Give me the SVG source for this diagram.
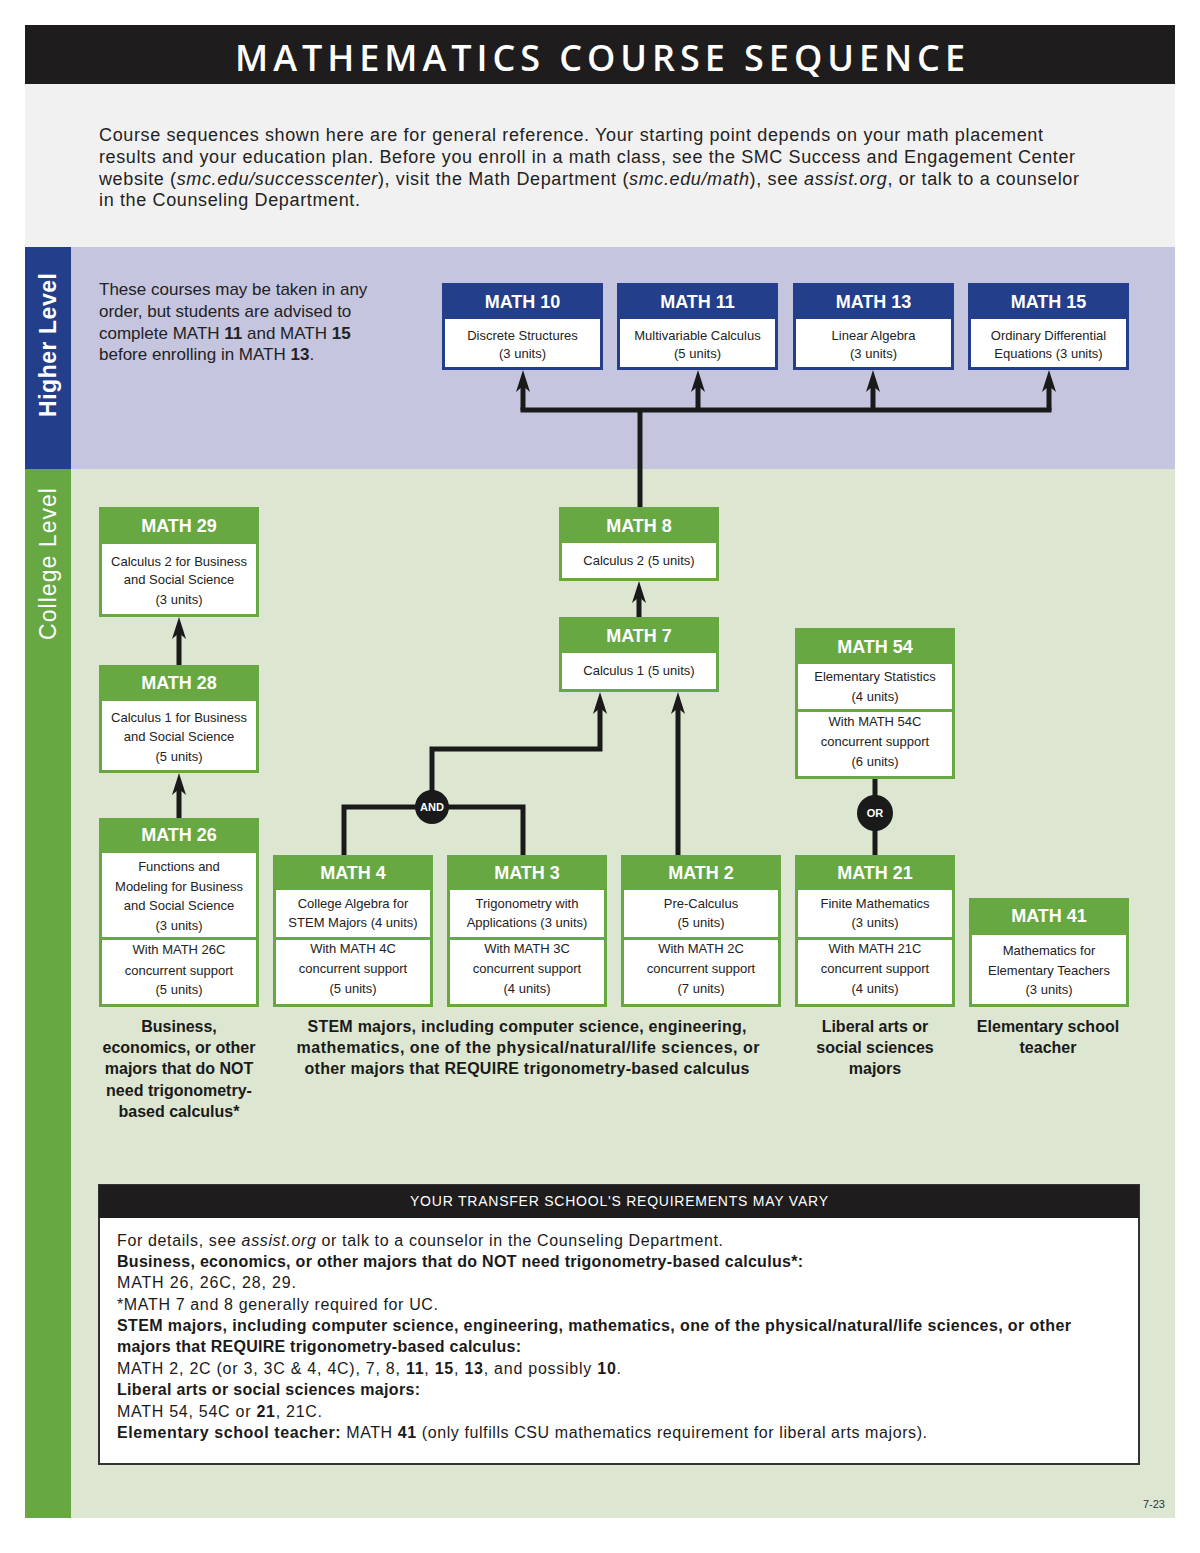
<svg xmlns="http://www.w3.org/2000/svg" width="1200" height="1553" viewBox="0 0 1200 1553">
<defs>
<style>
.sans{font-family:'Liberation Sans',Arial,sans-serif}
.hb{fill:#233e8b}
.hg{fill:#67a843}
.wb{fill:#ffffff}
.th{font-family:'Liberation Sans',Arial,sans-serif;font-weight:bold;font-size:18px;fill:#ffffff;text-anchor:middle}
.tb{font-family:'Liberation Sans',Arial,sans-serif;font-size:13px;fill:#222222;text-anchor:middle}
.lab{font-family:'Liberation Sans',Arial,sans-serif;font-weight:bold;font-size:16px;fill:#1a1a1a;text-anchor:middle}
.intro{font-family:'Liberation Sans',Arial,sans-serif;font-size:18px;fill:#222222}
.req{font-family:'Liberation Sans',Arial,sans-serif;font-size:16px;fill:#1a1a1a}
.b{font-weight:bold}
.i{font-style:italic}
.conn{stroke:#1a1a1a;stroke-width:5;fill:none;stroke-linejoin:miter}
.gate{fill:#1a1a1a}
.gt{font-family:'Liberation Sans',Arial,sans-serif;font-weight:bold;font-size:11px;fill:#ffffff;text-anchor:middle}
</style>
<marker id="arr" viewBox="0 0 22 14" refX="12" refY="7" markerWidth="22" markerHeight="14" markerUnits="userSpaceOnUse" orient="auto">
<path d="M0,0 L22,7 L0,14 L6,7 Z" fill="#1a1a1a"/>
</marker>
</defs>

<rect width="1200" height="1553" fill="#ffffff"/>

<!-- header -->
<g id="title">
<rect x="25" y="25" width="1150" height="59" fill="#1e1c1c"/>
<text x="600" y="71" text-anchor="middle" font-family="'Open Sans','Liberation Sans',sans-serif" font-weight="600" font-size="36" fill="#ffffff" textLength="730" lengthAdjust="spacing">MATHEMATICS COURSE SEQUENCE</text>
</g>

<g id="intro">
<rect x="25" y="84" width="1150" height="163" fill="#f1f1f1"/>
<text class="intro" x="99" y="141" textLength="944" lengthAdjust="spacing">Course sequences shown here are for general reference. Your starting point depends on your math placement</text>
<text class="intro" x="99" y="163" textLength="976" lengthAdjust="spacing">results and your education plan. Before you enroll in a math class, see the SMC Success and Engagement Center</text>
<text class="intro" x="99" y="185" textLength="980" lengthAdjust="spacing">website (<tspan class="i">smc.edu/successcenter</tspan>), visit the Math Department (<tspan class="i">smc.edu/math</tspan>), see <tspan class="i">assist.org</tspan>, or talk to a counselor</text>
<text class="intro" x="99" y="206" textLength="261" lengthAdjust="spacing">in the Counseling Department.</text>
</g>

<!-- bands -->
<g id="higher-band">
<rect x="25" y="247" width="1150" height="222" fill="#c5c5e0"/>
<rect x="25" y="247" width="46" height="222" fill="#233e8b"/>
<text transform="translate(56,345) rotate(-90)" text-anchor="middle" font-family="'Liberation Sans',Arial,sans-serif" font-weight="bold" font-size="23" fill="#ffffff" textLength="144" lengthAdjust="spacing">Higher Level</text>
<text font-family="'Liberation Sans',Arial,sans-serif" font-size="17" fill="#222222">
<tspan x="99" y="295">These courses may be taken in any</tspan>
<tspan x="99" y="317">order, but students are advised to</tspan>
<tspan x="99" y="339">complete MATH <tspan class="b">11</tspan> and MATH <tspan class="b">15</tspan></tspan>
<tspan x="99" y="360">before enrolling in MATH <tspan class="b">13</tspan>.</tspan>
</text>
</g>

<g id="college-band">
<rect x="25" y="469" width="1150" height="1049" fill="#dce6d0"/>
<rect x="25" y="469" width="46" height="1049" fill="#67a843"/>
<text transform="translate(56,564) rotate(-90)" text-anchor="middle" font-family="'Liberation Sans',Arial,sans-serif" font-size="23" fill="#ffffff" textLength="152" lengthAdjust="spacing">College Level</text>
</g>

<!-- connectors -->
<g id="connectors">
<path class="conn" d="M640,507 V410"/>
<path class="conn" d="M523,410 H1049" stroke-linecap="square"/>
<path class="conn" d="M523,410 V380" marker-end="url(#arr)"/>
<path class="conn" d="M698,410 V380" marker-end="url(#arr)"/>
<path class="conn" d="M873,410 V380" marker-end="url(#arr)"/>
<path class="conn" d="M1049,410 V380" marker-end="url(#arr)"/>
<path class="conn" d="M639,617 V591" marker-end="url(#arr)"/>
<path class="conn" d="M179,665 V627" marker-end="url(#arr)"/>
<path class="conn" d="M179,818 V783" marker-end="url(#arr)"/>
<path class="conn" d="M344,855 V807 H523 V855"/>
<path class="conn" d="M432,807 V749 H600 V702" marker-end="url(#arr)"/>
<path class="conn" d="M678,855 V702" marker-end="url(#arr)"/>
<path class="conn" d="M875,779 V855"/>
<circle class="gate" cx="432" cy="807" r="17"/>
<text class="gt" x="432" y="811">AND</text>
<circle class="gate" cx="875" cy="813" r="18"/>
<text class="gt" x="875" y="817" font-size="12">OR</text>
</g>

<!-- higher level nodes -->
<g id="math10">
<rect class="hb" x="442" y="283" width="161" height="87"/>
<rect class="wb" x="445" y="319" width="155" height="48"/>
<text class="th" x="522.5" y="308">MATH 10</text>
<text class="tb" x="522.5" y="340">Discrete Structures</text>
<text class="tb" x="522.5" y="358">(3 units)</text>
</g>
<g id="math11">
<rect class="hb" x="617" y="283" width="161" height="87"/>
<rect class="wb" x="620" y="319" width="155" height="48"/>
<text class="th" x="697.5" y="308">MATH 11</text>
<text class="tb" x="697.5" y="340">Multivariable Calculus</text>
<text class="tb" x="697.5" y="358">(5 units)</text>
</g>
<g id="math13">
<rect class="hb" x="793" y="283" width="161" height="87"/>
<rect class="wb" x="796" y="319" width="155" height="48"/>
<text class="th" x="873.5" y="308">MATH 13</text>
<text class="tb" x="873.5" y="340">Linear Algebra</text>
<text class="tb" x="873.5" y="358">(3 units)</text>
</g>
<g id="math15">
<rect class="hb" x="968" y="283" width="161" height="87"/>
<rect class="wb" x="971" y="319" width="155" height="48"/>
<text class="th" x="1048.5" y="308">MATH 15</text>
<text class="tb" x="1048.5" y="340">Ordinary Differential</text>
<text class="tb" x="1048.5" y="358">Equations (3 units)</text>
</g>

<!-- college level nodes -->
<g id="math29">
<rect class="hg" x="99" y="507" width="160" height="110"/>
<rect class="wb" x="102" y="544" width="154" height="70"/>
<text class="th" x="179" y="532">MATH 29</text>
<text class="tb" x="179" y="566">Calculus 2 for Business</text>
<text class="tb" x="179" y="584">and Social Science</text>
<text class="tb" x="179" y="604">(3 units)</text>
</g>
<g id="math28">
<rect class="hg" x="99" y="665" width="160" height="108"/>
<rect class="wb" x="102" y="701" width="154" height="69"/>
<text class="th" x="179" y="689">MATH 28</text>
<text class="tb" x="179" y="722">Calculus 1 for Business</text>
<text class="tb" x="179" y="741">and Social Science</text>
<text class="tb" x="179" y="761">(5 units)</text>
</g>
<g id="math26">
<rect class="hg" x="99" y="818" width="160" height="189"/>
<rect class="wb" x="102" y="853" width="154" height="84"/>
<rect class="wb" x="102" y="940" width="154" height="64"/>
<text class="th" x="179" y="841">MATH 26</text>
<text class="tb" x="179" y="871">Functions and</text>
<text class="tb" x="179" y="891">Modeling for Business</text>
<text class="tb" x="179" y="910">and Social Science</text>
<text class="tb" x="179" y="930">(3 units)</text>
<text class="tb" x="179" y="954">With MATH 26C</text>
<text class="tb" x="179" y="975">concurrent support</text>
<text class="tb" x="179" y="994">(5 units)</text>
</g>
<g id="math8">
<rect class="hg" x="559" y="507" width="160" height="74"/>
<rect class="wb" x="562" y="543" width="154" height="35"/>
<text class="th" x="639" y="532">MATH 8</text>
<text class="tb" x="639" y="565">Calculus 2 (5 units)</text>
</g>
<g id="math7">
<rect class="hg" x="559" y="617" width="160" height="75"/>
<rect class="wb" x="562" y="653" width="154" height="36"/>
<text class="th" x="639" y="642">MATH 7</text>
<text class="tb" x="639" y="675">Calculus 1 (5 units)</text>
</g>
<g id="math54">
<rect class="hg" x="795" y="628" width="160" height="151"/>
<rect class="wb" x="798" y="664" width="154" height="45"/>
<rect class="wb" x="798" y="712" width="154" height="64"/>
<text class="th" x="875" y="653">MATH 54</text>
<text class="tb" x="875" y="681">Elementary Statistics</text>
<text class="tb" x="875" y="701">(4 units)</text>
<text class="tb" x="875" y="726">With MATH 54C</text>
<text class="tb" x="875" y="746">concurrent support</text>
<text class="tb" x="875" y="766">(6 units)</text>
</g>
<g id="math4">
<rect class="hg" x="273" y="855" width="160" height="152"/>
<rect class="wb" x="276" y="890" width="154" height="47"/>
<rect class="wb" x="276" y="940" width="154" height="64"/>
<text class="th" x="353" y="879">MATH 4</text>
<text class="tb" x="353" y="908">College Algebra for</text>
<text class="tb" x="353" y="927">STEM Majors (4 units)</text>
<text class="tb" x="353" y="953">With MATH 4C</text>
<text class="tb" x="353" y="973">concurrent support</text>
<text class="tb" x="353" y="993">(5 units)</text>
</g>
<g id="math3">
<rect class="hg" x="447" y="855" width="160" height="152"/>
<rect class="wb" x="450" y="890" width="154" height="47"/>
<rect class="wb" x="450" y="940" width="154" height="64"/>
<text class="th" x="527" y="879">MATH 3</text>
<text class="tb" x="527" y="908">Trigonometry with</text>
<text class="tb" x="527" y="927">Applications (3 units)</text>
<text class="tb" x="527" y="953">With MATH 3C</text>
<text class="tb" x="527" y="973">concurrent support</text>
<text class="tb" x="527" y="993">(4 units)</text>
</g>
<g id="math2">
<rect class="hg" x="621" y="855" width="160" height="152"/>
<rect class="wb" x="624" y="890" width="154" height="47"/>
<rect class="wb" x="624" y="940" width="154" height="64"/>
<text class="th" x="701" y="879">MATH 2</text>
<text class="tb" x="701" y="908">Pre-Calculus</text>
<text class="tb" x="701" y="927">(5 units)</text>
<text class="tb" x="701" y="953">With MATH 2C</text>
<text class="tb" x="701" y="973">concurrent support</text>
<text class="tb" x="701" y="993">(7 units)</text>
</g>
<g id="math21">
<rect class="hg" x="795" y="855" width="160" height="152"/>
<rect class="wb" x="798" y="890" width="154" height="47"/>
<rect class="wb" x="798" y="940" width="154" height="64"/>
<text class="th" x="875" y="879">MATH 21</text>
<text class="tb" x="875" y="908">Finite Mathematics</text>
<text class="tb" x="875" y="927">(3 units)</text>
<text class="tb" x="875" y="953">With MATH 21C</text>
<text class="tb" x="875" y="973">concurrent support</text>
<text class="tb" x="875" y="993">(4 units)</text>
</g>
<g id="math41">
<rect class="hg" x="969" y="898" width="160" height="109"/>
<rect class="wb" x="972" y="935" width="154" height="69"/>
<text class="th" x="1049" y="922">MATH 41</text>
<text class="tb" x="1049" y="955">Mathematics for</text>
<text class="tb" x="1049" y="975">Elementary Teachers</text>
<text class="tb" x="1049" y="994">(3 units)</text>
</g>

<!-- pathway labels -->
<g id="labels">
<text class="lab" x="179" y="1032">Business,</text>
<text class="lab" x="179" y="1053">economics, or other</text>
<text class="lab" x="179" y="1074">majors that do NOT</text>
<text class="lab" x="179" y="1096">need trigonometry-</text>
<text class="lab" x="179" y="1117">based calculus*</text>
<text class="lab" x="527" y="1032" textLength="439" lengthAdjust="spacing">STEM majors, including computer science, engineering,</text>
<text class="lab" x="528" y="1053" textLength="463" lengthAdjust="spacing">mathematics, one of the physical/natural/life sciences, or</text>
<text class="lab" x="527" y="1074" textLength="445" lengthAdjust="spacing">other majors that REQUIRE trigonometry-based calculus</text>
<text class="lab" x="875" y="1032">Liberal arts or</text>
<text class="lab" x="875" y="1053">social sciences</text>
<text class="lab" x="875" y="1074">majors</text>
<text class="lab" x="1048" y="1032">Elementary school</text>
<text class="lab" x="1048" y="1053">teacher</text>
</g>

<!-- requirements box -->
<g id="requirements">
<rect x="99" y="1185" width="1040" height="279" fill="#ffffff" stroke="#333333" stroke-width="2"/>
<rect x="99" y="1185" width="1040" height="33" fill="#1e1c1c"/>
<text x="619" y="1206" text-anchor="middle" font-family="'Liberation Sans',Arial,sans-serif" font-size="14" fill="#ffffff" textLength="418" lengthAdjust="spacing">YOUR TRANSFER SCHOOL'S REQUIREMENTS MAY VARY</text>
<text class="req" x="117" y="1246" textLength="606" lengthAdjust="spacing">For details, see <tspan class="i">assist.org</tspan> or talk to a counselor in the Counseling Department.</text>
<text class="req b" x="117" y="1267" textLength="686" lengthAdjust="spacing">Business, economics, or other majors that do NOT need trigonometry-based calculus*:</text>
<text class="req" x="117" y="1288" textLength="179" lengthAdjust="spacing">MATH 26, 26C, 28, 29.</text>
<text class="req" x="117" y="1310" textLength="321" lengthAdjust="spacing">*MATH 7 and 8 generally required for UC.</text>
<text class="req b" x="117" y="1331" textLength="954" lengthAdjust="spacing">STEM majors, including computer science, engineering, mathematics, one of the physical/natural/life sciences, or other</text>
<text class="req b" x="117" y="1352" textLength="404" lengthAdjust="spacing">majors that REQUIRE trigonometry-based calculus:</text>
<text class="req" x="117" y="1374" textLength="504" lengthAdjust="spacing">MATH 2, 2C (or 3, 3C &amp; 4, 4C), 7, 8, <tspan class="b">11</tspan>, <tspan class="b">15</tspan>, <tspan class="b">13</tspan>, and possibly <tspan class="b">10</tspan>.</text>
<text class="req b" x="117" y="1395" textLength="303" lengthAdjust="spacing">Liberal arts or social sciences majors:</text>
<text class="req" x="117" y="1417" textLength="205" lengthAdjust="spacing">MATH 54, 54C or <tspan class="b">21</tspan>, 21C.</text>
<text class="req" x="117" y="1438" textLength="810" lengthAdjust="spacing"><tspan class="b">Elementary school teacher:</tspan> MATH <tspan class="b">41</tspan> (only fulfills CSU mathematics requirement for liberal arts majors).</text>
</g>

<text x="1165" y="1508" text-anchor="end" font-family="'Liberation Sans',Arial,sans-serif" font-size="11" fill="#333333">7-23</text>
</svg>
